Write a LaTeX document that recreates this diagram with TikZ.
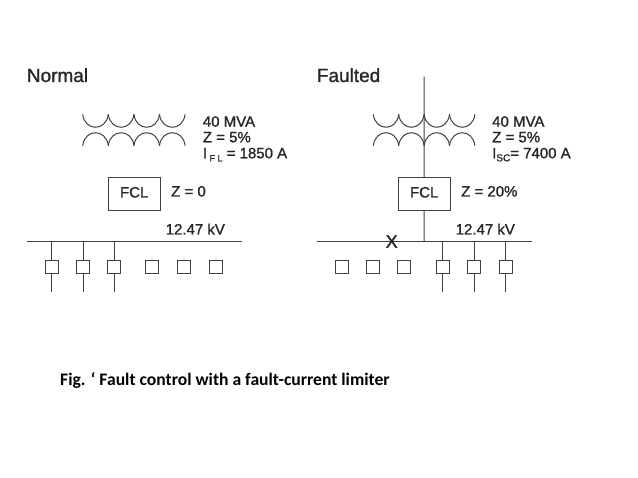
\documentclass[tikz,border=0pt]{standalone}
\usepackage{fontspec}
\setmainfont{Liberation Sans}[FakeBold=1.2]
\newfontfamily\capfont{Carlito}
\tikzset{
  wire/.style={draw=black!75, line width=1pt},
  lbl/.style={anchor=base west, inner sep=0pt, text=black!85, font=\fontsize{15}{15}\selectfont},
  title/.style={anchor=base west, inner sep=0pt, text=black!85, font=\fontsize{19}{19}\selectfont},
  feeder/.style={draw=black!75, line width=1pt, minimum size=13.3pt, inner sep=0pt},
  fcl/.style={draw=black!75, line width=1pt, minimum width=51.7pt, minimum height=32.7pt, inner sep=0pt, text=black!85, font=\fontsize{15}{15}\selectfont},
}
\begin{document}
\begin{tikzpicture}[x=1pt, y=-1pt]
\useasboundingbox (0,0) rectangle (638,478);
  % normal side
  \begin{scope}
\node[title] (ttlN) at (26.7,82) {Normal};
\foreach \i in {0,...,3} {
\draw[wire] (82.7+25.6*\i,114.3) .. controls (84.7+25.6*\i,131.6) and (106.3+25.6*\i,131.6) .. (108.3+25.6*\i,114.3);
\draw[wire] (82.7+25.6*\i,145.7) .. controls (84.7+25.6*\i,128.4) and (106.3+25.6*\i,128.4) .. (108.3+25.6*\i,145.7);
}
\node[lbl] (mvaN) at (202.7,126.7) {40 MVA};
\node[lbl] (zN) at (202.7,142.3) {Z = 5\%};
\node[lbl] (iN) at (202.7,158.3) {I\,\raisebox{-3pt}{\fontsize{9}{9}\selectfont F L} = 1850 A};
\node[fcl] (fclN) at (134.2,193.7) {\raisebox{3pt}{FCL}};
\node[lbl] (zfN) at (171,196.5) {Z = 0};
\node[lbl] (kvN) at (165.5,234.5) {12.47 kV};
\coordinate (bN1) at (26.7,241.3);
\coordinate (bN2) at (241.7,241.3);
\draw[wire] (bN1) -- (bN2);
% feeders
\foreach \i/\x in {1/51.7,2/83,3/114.3} {
\node[feeder] (sN\i) at (\x,267) {};
\coordinate (tN\i) at (\x,241.3);
\coordinate (eN\i) at (\x,292.3);
\draw[wire] (tN\i) -- (sN\i);
\draw[wire] (sN\i) -- (eN\i);
}
\foreach \i/\x in {4/152.3,5/184.3,6/215.7}
\node[feeder] (sN\i) at (\x,267) {};
  \end{scope}
  % faulted side
  \begin{scope}[shift={(290,0)}]
\node[title] (ttlF) at (26.7,82) {Faulted};
\foreach \i in {0,...,3} {
\draw[wire] (83.3+25.4*\i,114.3) .. controls (85.3+25.4*\i,131.6) and (106.7+25.4*\i,131.6) .. (108.7+25.4*\i,114.3);
\draw[wire] (83.3+25.4*\i,145.7) .. controls (85.3+25.4*\i,128.4) and (106.7+25.4*\i,128.4) .. (108.7+25.4*\i,145.7);
}
\node[lbl] (mvaF) at (202,126.7) {40 MVA};
\node[lbl] (zF) at (202,142.3) {Z = 5\%};
\node[lbl] (iF) at (202,158.3) {I\raisebox{-3pt}{\fontsize{10}{10}\selectfont SC}= 7400 A};
\node[fcl] (fclF) at (134.2,193.7) {\raisebox{3pt}{FCL}};
\node[lbl] (zfF) at (171,196.5) {Z = 20\%};
\node[lbl] (kvF) at (165.5,234.5) {12.47 kV};
\coordinate (bF1) at (26.7,241.3);
\coordinate (bF2) at (241.7,241.3);
\coordinate (jF) at (134,241.3);
\coordinate (topF) at (134,76.7);
\draw[wire] (bF1) -- (bF2);
\draw[wire] (topF) -- (fclF);
\draw[wire] (fclF) -- (jF);
\node[inner sep=0pt, text=black!85, font=\fontsize{18}{18}\selectfont] (xF) at (101.7,241.5) {\addfontfeature{FakeBold=1.5}X};
% feeders
\foreach \i/\x in {1/51.7,2/83,3/114.3}
\node[feeder] (sF\i) at (\x,267) {};
\foreach \i/\x in {4/152.7,5/184.3,6/215.7} {
\node[feeder] (sF\i) at (\x,267) {};
\coordinate (tF\i) at (\x,241.3);
\coordinate (eF\i) at (\x,292.3);
\draw[wire] (tF\i) -- (sF\i);
\draw[wire] (sF\i) -- (eF\i);
}
  \end{scope}
\node[anchor=base west, inner sep=0pt, font=\capfont\bfseries\fontsize{17.6}{17.6}\selectfont] (cap) at (60,386) {Fig. ‘ Fault control with a fault-current limiter};
\end{tikzpicture}
\end{document}
